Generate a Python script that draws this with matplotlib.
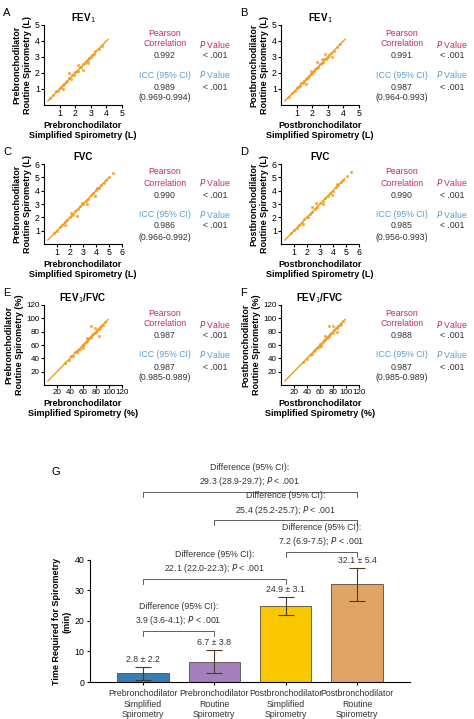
import matplotlib
matplotlib.use("Agg")
import matplotlib.pyplot as plt

plt.rcParams['font.family'] = ['Liberation Sans', 'DejaVu Sans']

# ---- scatter data (estimated) ----
fev1_pre_x = [0.4,0.6,0.8,0.9,1.0,1.1,1.2,1.3,1.4,1.5,1.6,1.7,1.8,1.9,2.0,2.1,2.2,2.3,2.4,2.5,2.6,2.7,2.8,2.9,3.0,3.1,3.2,3.3,3.5,3.7,1.6,2.2,2.8,1.2,2.5]
fev1_pre_y = [0.45,0.6,0.85,0.88,1.05,1.1,1.25,1.3,1.45,1.5,1.7,1.65,1.85,1.9,2.05,2.1,2.15,2.35,2.4,2.55,2.6,2.75,2.8,2.95,3.0,3.15,3.2,3.35,3.5,3.7,2.0,2.5,2.6,1.0,2.2]
fev1_post_x = [0.5,0.7,0.9,1.0,1.1,1.2,1.3,1.4,1.5,1.6,1.7,1.8,1.9,2.0,2.1,2.2,2.3,2.4,2.5,2.6,2.7,2.8,2.9,3.0,3.1,3.2,3.4,3.6,3.8,2.3,1.6,2.8,3.3,1.9,2.6]
fev1_post_y = [0.5,0.72,0.9,1.05,1.1,1.2,1.35,1.4,1.5,1.65,1.7,1.8,1.95,2.0,2.1,2.25,2.3,2.4,2.55,2.6,2.7,2.85,2.9,3.0,3.1,3.25,3.4,3.6,3.8,2.7,1.3,3.2,3.0,2.1,2.9]
fvc_pre_x = [0.8,1.0,1.2,1.4,1.6,1.8,2.0,2.2,2.4,2.6,2.8,3.0,3.2,3.4,3.6,3.8,4.0,4.2,4.4,4.6,4.8,5.0,5.3,2.5,3.3,1.6,2.9,3.9,4.1,2.1]
fvc_pre_y = [0.85,1.0,1.25,1.4,1.65,1.8,2.05,2.2,2.45,2.6,2.85,3.0,3.25,3.4,3.65,3.8,4.05,4.2,4.45,4.6,4.8,5.0,5.3,2.1,3.0,1.4,3.1,3.6,4.2,2.3]
fvc_post_x = [0.8,1.0,1.2,1.4,1.6,1.8,2.0,2.2,2.4,2.6,2.8,3.0,3.2,3.4,3.6,3.8,4.0,4.2,4.4,4.6,4.8,5.1,5.4,2.4,3.2,1.7,2.7,3.9,4.3,2.1]
fvc_post_y = [0.8,1.05,1.2,1.45,1.6,1.85,2.0,2.25,2.4,2.65,2.8,3.05,3.2,3.45,3.6,3.85,4.0,4.25,4.4,4.65,4.8,5.1,5.4,2.8,3.0,1.5,3.1,3.7,4.5,2.0]
ratio_pre_x = [32,38,42,45,48,50,52,55,58,60,62,64,66,68,70,72,74,76,78,80,82,84,86,88,90,94,72,78,60,84,66]
ratio_pre_y = [33,37,43,44,49,50,53,54,59,60,62,65,66,69,70,72,75,76,78,80,83,84,86,88,90,95,88,86,55,74,70]
ratio_post_x = [34,40,44,47,50,52,55,58,60,62,64,66,68,70,72,74,76,78,80,82,84,86,88,90,92,96,74,80,62,86,68]
ratio_post_y = [35,39,45,46,51,52,55,57,61,62,64,67,68,71,72,74,77,78,80,82,85,86,88,90,92,96,88,89,58,80,73]

panels = [
    ("A", "FEV$_1$", fev1_pre_x, fev1_pre_y, "Prebronchodilator", "Prebronchodilator", "(L)", 5, [1,2,3,4,5],
     ["0.992", "< .001", "0.989", "< .001", "(0.969-0.994)"]),
    ("B", "FEV$_1$", fev1_post_x, fev1_post_y, "Postbronchodilator", "Postbronchodilator", "(L)", 5, [1,2,3,4,5],
     ["0.991", "< .001", "0.987", "< .001", "(0.964-0.993)"]),
    ("C", "FVC", fvc_pre_x, fvc_pre_y, "Prebronchodilator", "Prebronchodilator", "(L)", 6, [1,2,3,4,5,6],
     ["0.990", "< .001", "0.986", "< .001", "(0.966-0.992)"]),
    ("D", "FVC", fvc_post_x, fvc_post_y, "Postbronchodilator", "Postbronchodilator", "(L)", 6, [1,2,3,4,5,6],
     ["0.990", "< .001", "0.985", "< .001", "(0.956-0.993)"]),
    ("E", "FEV$_1$/FVC", ratio_pre_x, ratio_pre_y, "Prebronchodilator", "Prebronchodilator", "(%)", 120, [20,40,60,80,100,120],
     ["0.987", "< .001", "0.987", "< .001", "(0.985-0.989)"]),
    ("F", "FEV$_1$/FVC", ratio_post_x, ratio_post_y, "Postbronchodilator", "Postbronchodilator", "(%)", 120, [20,40,60,80,100,120],
     ["0.988", "< .001", "0.987", "< .001", "(0.985-0.989)"]),
]

# ---- bar data ----
bar_labels = ["Prebronchodilator\nSimplified\nSpirometry", "Prebronchodilator\nRoutine\nSpirometry",
              "Postbronchodilator\nSimplified\nSpirometry", "Postbronchodilator\nRoutine\nSpirometry"]
bar_means = [2.8, 6.7, 24.9, 32.1]
bar_sds = [2.2, 3.8, 3.1, 5.4]
bar_colors = ["#3b7db3", "#a380bd", "#f8c700", "#e0a565"]
comparisons = [(0, 1, "3.9 (3.6-4.1)"), (0, 2, "22.1 (22.0-22.3)"), (2, 3, "7.2 (6.9-7.5)"),
               (1, 3, "25.4 (25.2-25.7)"), (0, 3, "29.3 (28.9-29.7)")]

W, H = 474, 719
fig = plt.figure(figsize=(W/100, H/100), dpi=100)

def ax_px(x, y, w, h):
    return fig.add_axes([x/W, 1-(y+h)/H, w/W, h/H])

rows_y = [25, 164, 305]
pink = "#c8295e"
blue = "#5b9ed0"
orange = "#f39a1e"
fs = 6.3
for i, (lab, title, xs, ys, xl, yl, unit, lim, ticks, stats) in enumerate(panels):
    col = i % 2
    row = i // 2
    x0 = 44 + col*237
    y0 = rows_y[row]
    ax = ax_px(x0, y0, 78, 80)
    ax.plot([0.05*lim, 0.82*lim], [0.05*lim, 0.82*lim], color=orange, lw=1.0, zorder=1)
    ax.scatter(xs, ys, s=5, color=orange, alpha=0.8, lw=0, zorder=2)
    ax.set_xlim(0, lim); ax.set_ylim(0, lim)
    ax.set_xticks(ticks); ax.set_yticks(ticks)
    ax.tick_params(labelsize=(5.8 if lim > 10 else fs), length=2, pad=1)
    for s in ["top", "right"]:
        ax.spines[s].set_visible(False)
    ax.set_title(title, fontsize=7, fontweight="bold", pad=3)
    ax.set_xlabel(f"{xl}\nSimplified Spirometry {unit}", fontsize=6.5, fontweight="bold", labelpad=2)
    ax.set_ylabel(f"{yl}\nRoutine Spirometry {unit}", fontsize=6.5, fontweight="bold", labelpad=2)
    fig.text((x0-41)/W, 1-(y0-17)/H, lab, fontsize=8, va="top")
    cx = (x0+121)/W; px = (x0+171)/W
    def t(x, y, s, c="#333333", ha="center"):
        fig.text(x, 1-(y0+y)/H, s, fontsize=fs, color=c, ha=ha, va="center")
    t(cx, 8, "Pearson", pink); t(cx, 19, "Correlation", pink)
    t(px, 19, "$\\it{P}$ Value", pink)
    t(cx, 31, stats[0]); t(px, 31, stats[1])
    t(cx, 50, "ICC (95% CI)", blue); t(px, 50, "$\\it{P}$ Value", blue)
    t(cx, 62, stats[2]); t(px, 62, stats[3]); t(cx, 73, stats[4])

# ---- panel G ----
fig.text(52/W, 1-(472)/H, "G", fontsize=8, va="center")
axg = ax_px(90, 440, 320, 242)
xpos = list(range(len(bar_means)))
axg.bar(xpos, bar_means, width=0.72, color=bar_colors, edgecolor="#5a4a3a", lw=0.6)
axg.errorbar(xpos, bar_means, yerr=bar_sds, fmt="none", ecolor="#4a3a2a", lw=0.8, capsize=6, capthick=0.8)
for x, m, s in zip(xpos, bar_means, bar_sds):
    axg.text(x, m+s+1.0, f"{m} ± {s}", ha="center", va="bottom", fontsize=fs, color="#333333")
axg.set_xlim(-0.74, 3.74)
axg.set_ylim(0, 79.3)
axg.set_yticks([0, 10, 20, 30, 40])
axg.spines["left"].set_bounds(0, 40)
for s in ["top", "right"]:
    axg.spines[s].set_visible(False)
axg.set_xticks(xpos)
axg.set_xticklabels(bar_labels, fontsize=7, color="#333333", linespacing=1.25)
axg.tick_params(labelsize=fs, length=2, pad=2)
axg.tick_params(axis="x", pad=3)
axg.set_ylabel("Time Required for Spirometry\n(min)", fontsize=6.5, fontweight="bold", y=0.25, labelpad=2)
bracket_y = [16.7, 33.8, 42.6, 53.0, 62.3]
for (a, b, txt), yb in zip(comparisons, bracket_y):
    axg.plot([a, a, b, b], [yb-1.6, yb, yb, yb-1.6], color="#444444", lw=0.6, clip_on=False)
    axg.text((a+b)/2, yb+1.2, f"Difference (95% CI):\n{txt}; $\\it{{P}}$ < .001", ha="center", va="bottom",
             fontsize=fs, color="#333333", linespacing=1.35)

fig.savefig("out.png", dpi=100)
